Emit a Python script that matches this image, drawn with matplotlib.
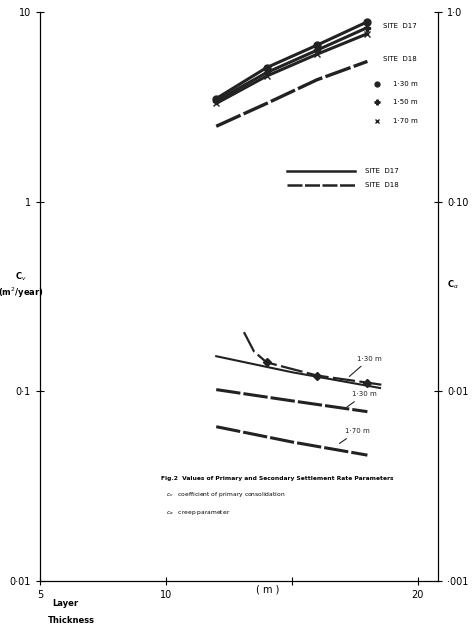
import matplotlib
matplotlib.use("Agg")
import matplotlib.pyplot as plt

thick = [12, 14, 16, 18]
cv_d17_130 = [3.5, 5.1, 6.7, 8.9]
cv_d17_150 = [3.4, 4.8, 6.3, 8.3]
cv_d17_170 = [3.3, 4.6, 6.0, 7.7]
cv_d18 = [2.5, 3.3, 4.4, 5.5]

ca_d17_x = [13.1, 13.5, 14, 16, 18, 18.6]
ca_d17 = [0.0205, 0.0162, 0.0142, 0.0121, 0.0111, 0.0108]
ca_x = [12, 15, 18.5]
ca_d18_130 = [0.0153, 0.0126, 0.0104]
ca_d18_150 = [0.0102, 0.0089, 0.0077]
ca_d18_170 = [0.0065, 0.0054, 0.0045]

fig = plt.figure(figsize=(4.74, 6.41), dpi=100)
ax = fig.add_axes([0.084, 0.094, 0.84, 0.887])
ax.set_yscale("log")
ax.set_xlim(5, 20.8)
ax.set_ylim(0.01, 10)
ax.spines["top"].set_visible(False)
ax.set_xticks([5, 10, 15, 20])
ax.set_xticklabels(["5", "10", "", "20"], fontsize=7)
ax.set_yticks([0.01, 0.1, 1, 10])
ax.set_yticklabels(["0·01", "0·1", "1", "10"], fontsize=7)
ax.minorticks_off()
ax.tick_params(direction="inout", length=6)

k = "#222222"
ax.plot(thick, cv_d17_130, "-", color=k, lw=2.2, marker="o", ms=5)
ax.plot(thick, cv_d17_150, "-", color=k, lw=2.2, marker="P", ms=5)
ax.plot(thick, cv_d17_170, "-", color=k, lw=2.2, marker="x", ms=5)
ax.plot(thick, cv_d18, "--", color=k, lw=2.4, dashes=(8, 1))

ax2 = ax.twinx()
ax2.set_yscale("log")
ax2.set_ylim(0.001, 1)
ax2.spines["top"].set_visible(False)
ax2.set_yticks([0.001, 0.01, 0.1, 1])
ax2.set_yticklabels(["·001", "0·01", "0·10", "1·0"], fontsize=7)
ax2.minorticks_off()
ax2.tick_params(direction="inout", length=6)

ax2.plot(ca_d17_x, ca_d17, "--", color=k, lw=1.6, dashes=(10, 2))
ax2.plot(ca_d17_x[2:5], ca_d17[2:5], "D", color=k, ms=4)
ax2.plot(ca_x, ca_d18_130, "-", color=k, lw=1.5)
ax2.plot(ca_x[:2] + [18], ca_d18_150[:2] + [0.0078], "--", color=k, lw=2.2, dashes=(8, 1))
ax2.plot(ca_x[:2] + [18], ca_d18_170[:2] + [0.0046], "--", color=k, lw=2.2, dashes=(8, 1))

for lbl, xy, xt in [("1·30 m", (17.2, 0.0117), (17.6, 0.0145)),
                    ("1·30 m", (17.1, 0.0081), (17.4, 0.0094)),
                    ("1·70 m", (16.8, 0.0052), (17.1, 0.006))]:
    ax2.annotate(lbl, xy=xy, xytext=xt, fontsize=5, color=k,
                 arrowprops=dict(arrowstyle="-", color=k, lw=0.8))

# legend-like annotations
ax.text(18.6, 8.5, "SITE  D17", fontsize=5, va="center")
ax.text(18.6, 5.65, "SITE  D18", fontsize=5, va="center")
for i, (m, t) in enumerate([("o", "1·30 m"), ("P", "1·50 m"), ("x", "1·70 m")]):
    y = 4.18 / (1.25 ** i)
    ax.plot([18.4], [y], m, color=k, ms=3.5)
    ax.text(19.0, y, t, fontsize=5, va="center")
ax.plot([14.8, 17.5], [1.45, 1.45], "-", color=k, lw=1.8)
ax.plot([14.8, 17.5], [1.22, 1.22], "--", color=k, lw=1.8, dashes=(6, 1))
ax.text(17.9, 1.45, "SITE  D17", fontsize=5, va="center")
ax.text(17.9, 1.22, "SITE  D18", fontsize=5, va="center")

ax.text(9.8, 0.034, "Fig.2  Values of Primary and Secondary Settlement Rate Parameters",
        fontsize=4.3, fontweight="bold")
ax.text(10.0, 0.028, r"$c_v$   coefficient of primary consolidation", fontsize=4.3)
ax.text(10.0, 0.0225, r"$c_\alpha$   creep parameter", fontsize=4.3)

fig.text(0.045, 0.555, "C$_v$\n(m$^2$/year)", fontsize=6, ha="center", va="center", fontweight="bold")
fig.text(0.955, 0.555, r"C$_\alpha$", fontsize=6, ha="center", va="center", fontweight="bold")
fig.text(0.11, 0.055, "Layer", fontsize=6, fontweight="bold")
fig.text(0.10, 0.028, "Thickness", fontsize=6, fontweight="bold")
fig.text(0.565, 0.075, "( m )", fontsize=7, ha="center")

fig.savefig("out.png", dpi=100)
